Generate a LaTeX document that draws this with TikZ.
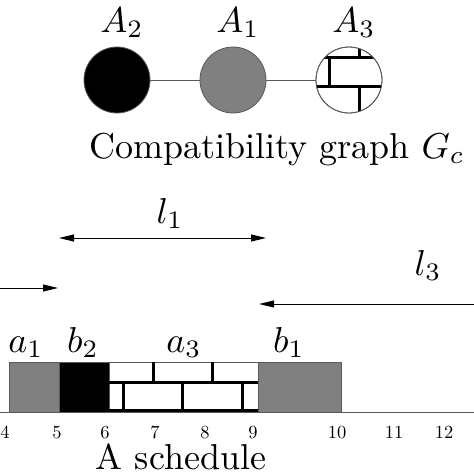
\documentclass[tikz,border=0pt]{standalone}
\usetikzlibrary{arrows.meta}
\definecolor{midgray}{HTML}{808080}
\definecolor{edgegray}{HTML}{5A5A5A}
\tikzset{
  big/.style={font=\normalsize, inner sep=0pt, anchor=base, scale=3.6},
  small/.style={font=\normalsize, inner sep=0pt, anchor=base, scale=1.85},
  vert/.style={circle, minimum size=66pt, inner sep=0pt, draw=edgegray, line width=0.8pt},
  link/.style={draw=edgegray, line width=1pt},
  brick/.style={line width=3pt, black},
  span/.style={line width=1pt, black},
  tip/.style={-{Triangle[length=15pt,width=7pt]}},
  box/.style={draw=edgegray, line width=0.8pt}
}
\begin{document}
\begin{tikzpicture}[x=1pt,y=-1pt]
\useasboundingbox (0,0) rectangle (474,474);
% compatibility graph
\node[vert, fill=black] (A2) at (117,80) {};
\node[vert, fill=midgray] (A1) at (233,80) {};
\node[vert, fill=white] (A3) at (349,80) {};
\begin{scope}
  \clip (349,80) circle (33pt);
  \draw[brick] (310,57) -- (390,57);
  \draw[brick] (310,86) -- (390,86);
  \draw[brick] (329,57) -- (329,86);
  \draw[brick] (359,40) -- (359,57);
  \draw[brick] (359,86) -- (359,120);
\end{scope}
\draw[draw=edgegray, line width=0.8pt] (349,80) circle (33pt);
\draw[link] (A2) -- (A1);
\draw[link] (A1) -- (A3);
\node[big] (lA2) at (122,32) {$A_2$};
\node[big] (lA1) at (238,32) {$A_1$};
\node[big] (lA3) at (354,32) {$A_3$};
\node[big] (cap) at (277,158) {Compatibility graph $G_c$};
% intervals
\coordinate (l1a) at (59,238);
\coordinate (l1b) at (266,238);
\draw[span, {Triangle[length=15pt,width=7pt]}-{Triangle[length=15pt,width=7pt]}] (l1a) -- (l1b);
\node[big] (ll1) at (170,223) {$l_1$};
\coordinate (l2a) at (0,288);
\coordinate (l2b) at (58,288);
\draw[span, tip] (l2a) -- (l2b);
\coordinate (l3a) at (474,304);
\coordinate (l3b) at (259,304);
\draw[span, tip] (l3a) -- (l3b);
\node[big] (ll3) at (428,275) {$l_3$};
% schedule
\draw[box, fill=midgray] (9,362) rectangle (59,412);
\draw[box, fill=black] (59,362) rectangle (109,412);
\draw[box, fill=white] (109,362) rectangle (258,412);
\draw[box, fill=midgray] (258,362) rectangle (341,412);
\draw[brick] (109,382) -- (258,382);
\draw[brick] (109,410.5) -- (258,410.5);
\draw[brick] (153,362) -- (153,382);
\draw[brick] (212,362) -- (212,382);
\draw[brick] (123,382) -- (123,412);
\draw[brick] (182,382) -- (182,412);
\draw[brick] (242,382) -- (242,412);
\coordinate (ax0) at (0,412);
\coordinate (ax1) at (474,412);
\draw[draw=edgegray, line width=1pt] (ax0) -- (ax1);
\node[big] (la1) at (26,352) {$a_1$};
\node[big] (lb2) at (83,352) {$b_2$};
\node[big] (la3) at (184,352) {$a_3$};
\node[big] (lb1) at (289,352) {$b_1$};
\node[small] (t4) at (5,438) {4};
\node[small] (t5) at (57,438) {5};
\node[small] (t6) at (105,438) {6};
\node[small] (t7) at (155,438) {7};
\node[small] (t8) at (205,438) {8};
\node[small] (t9) at (253,438) {9};
\node[small] (t10) at (337,438) {10};
\node[small] (t11) at (394,438) {11};
\node[small] (t12) at (444,438) {12};
\node[big] (sch) at (181,469) {A schedule};
\end{tikzpicture}
\end{document}
